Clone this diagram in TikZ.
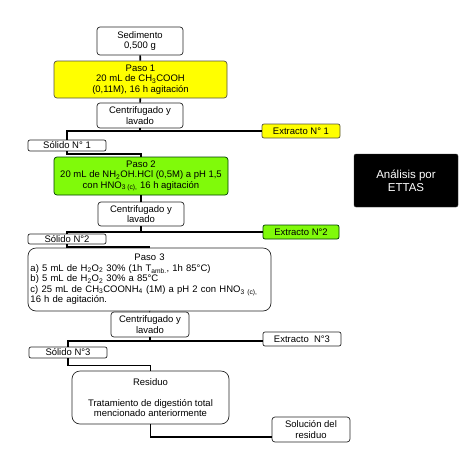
\documentclass[tikz,border=0pt]{standalone}
\usepackage{fontspec}
\setmainfont{Liberation Sans}
\definecolor{amarillo}{RGB}{255,255,0}
\definecolor{verde}{RGB}{128,250,10}
\begin{document}
\begin{tikzpicture}[x=1pt,y=-1pt,
	caja/.style={draw=black!85,line width=0.7pt,rounded corners=3pt,align=center,inner sep=1pt,
		font=\fontsize{9.5}{10.5}\selectfont,minimum width=#1},
	caja/.default=86pt,
	amar/.style={fill=amarillo,draw=black!60!yellow!60!black},
	verd/.style={fill=verde,draw=black!60!green!60!black},
	linea/.style={line width=1.6pt,line join=miter}]
	\useasboundingbox (0,0) rectangle (474,456);

	% columna principal
	\node[caja,minimum height=28pt] (sed) at (140,41) {Sedimento\\0,500 g};
	\node[caja=173pt,amar,minimum height=37pt] (paso1) at (140.5,79.5) {Paso 1\\20 mL de CH\textsubscript{3}COOH\\(0,11M), 16 h agitación};
	\node[caja,minimum height=25pt] (cen1) at (140,115.5) {Centrifugado y\\lavado};
	\node[caja=78pt,amar,minimum height=14pt,rounded corners=2pt] (ext1) at (301,131) {Extracto N° 1};
	\node[caja=78pt,minimum height=11pt,rounded corners=2pt] (sol1) at (67,145.5) {Sólido N° 1};

	\node[caja=174pt,verd,minimum height=38pt] (paso2) at (141,176) {Paso 2\\20 mL de NH\textsubscript{2}OH.HCl (0,5M) a pH 1,5\\con HNO\textsubscript{3 (c),} 16 h agitación};
	\node[caja,minimum height=24pt] (cen2) at (141,214) {Centrifugado y\\lavado};
	\node[caja=76pt,verd,minimum height=14pt,rounded corners=2pt] (ext2) at (301,232) {Extracto N°2};
	\node[caja=78pt,minimum height=10pt,rounded corners=2pt] (sol2) at (67,239) {Sólido N°2};

	\node[caja=243pt,minimum height=63pt,rounded corners=8pt,text width=238pt,align=left] (paso3) at (149.5,279.5)
		{\centering Paso 3\par\raggedright
		a) 5 mL de H\textsubscript{2}O\textsubscript{2} 30\% (1h T\textsubscript{amb.}, 1h 85°C)\\
		b) 5 mL de H\textsubscript{2}O\textsubscript{2} 30\% a 85°C\\
		c) 25 mL de CH\textsubscript{3}COONH\textsubscript{4} (1M) a pH 2 con HNO\textsubscript{3 (c),}\\
		16 h de agitación.};
	\node[caja=78pt,minimum height=25pt] (cen3) at (150,324.5) {Centrifugado y\\lavado};
	\node[caja=78pt,minimum height=14pt,rounded corners=2pt] (ext3) at (302,339) {Extracto\ \ N°3};
	\node[caja=78pt,minimum height=11pt,rounded corners=2pt] (sol3) at (68,352.5) {Sólido N°3};

	\node[caja=157pt,minimum height=53pt,rounded corners=8pt] (res) at (150.5,397.5)
		{Residuo\\[10.5pt]Tratamiento de digestión total\\mencionado anteriormente};
	\node[caja=78pt,minimum height=25pt] (solres) at (311,429.5) {Solución del\\residuo};

	\node[fill=black,draw=black!80,rounded corners=2pt,minimum width=104pt,minimum height=53pt,
		align=center,text=white,font=\fontsize{11.5}{13}\selectfont] (ettas) at (406,180.5) {Análisis por\\ETTAS};

	% conexiones
	\draw[linea] (sed) -- (paso1);
	\draw[linea] (paso1) -- (cen1);
	\draw[linea] (cen1.south) |- (ext1.west);
	\draw[linea] (cen1.south |- ext1.west) -| (sol1.north);
	\draw[linea] (sol1.south) -- ++(0,2.5) -| (paso2.north);

	\draw[linea] (paso2) -- (cen2);
	\draw[linea] (cen2.south) |- (ext2.west);
	\draw[linea] (cen2.south |- ext2.west) -| (sol2.north);
	\draw[linea] (sol2.south) -- ++(0,2.5) -| (paso3.north);

	\draw[linea] (paso3.south) -- (cen3.north);
	\draw[linea] (cen3.south) |- ([yshift=-2pt]ext3.west);
	\draw[linea] (cen3.south |- 0,341) -| (sol3.north);
	\draw[linea] (sol3.south) -- ++(0,7) -| (res.north);
	\draw[linea] (res.south) |- ([yshift=-7.5pt]solres.west);
\end{tikzpicture}
\end{document}
